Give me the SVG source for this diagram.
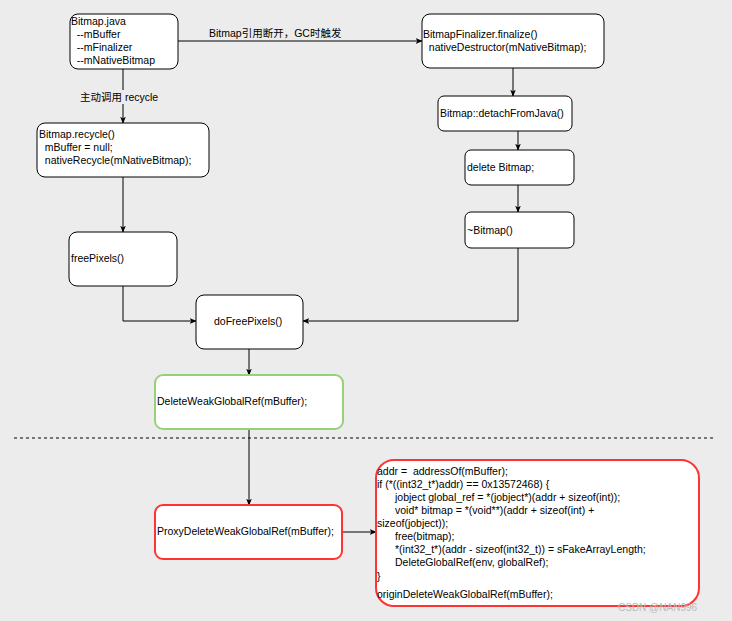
<svg xmlns="http://www.w3.org/2000/svg" width="732" height="621" viewBox="0 0 732 621">
<defs>
<marker id="ah" viewBox="0 0 10 10" refX="9" refY="5" markerWidth="7" markerHeight="7" orient="auto"><path d="M0,1 L10,5 L0,9 L2.5,5 Z" fill="#000"/></marker>
<style>
text{font-family:"Liberation Sans",Arial,"Noto Sans CJK SC",sans-serif;font-size:10.5px;fill:#000;white-space:pre}
.n{fill:#fff;stroke:#000;stroke-width:1}
.g{fill:#fff;stroke:#97d077;stroke-width:2}
.r{fill:#fff;stroke:#ff3333;stroke-width:2}
.c{fill:none;stroke:#000;stroke-width:1;marker-end:url(#ah)}
</style>
</defs>
<rect width="732" height="621" fill="#ececec"/>
<g id="connectors">
<path class="c" d="M123,69 V123"/>
<rect x="79" y="90" width="82" height="14" fill="#ececec"/>
<text x="80" y="101">主动调用 recycle</text>
<path class="c" d="M178,41 H422"/>
<text x="209" y="37">Bitmap引用断开，GC时触发</text>
<path class="c" d="M513,68 V96"/>
<path class="c" d="M518,131 V150"/>
<path class="c" d="M518,185 V212"/>
<path class="c" d="M123,177 V232"/>
<path class="c" d="M123,286 V321 H196"/>
<path class="c" d="M518,248 V321 H303"/>
<path class="c" d="M249,349 V375"/>
<path class="c" d="M249,429 V505"/>
<path class="c" d="M342,532 H376"/>
<line x1="14" y1="438" x2="714" y2="438" stroke="#000" stroke-dasharray="3,3"/>
</g>
<g id="bitmapjava"><rect class="n" x="70" y="14" width="108" height="55" rx="8"/>
<text x="71" y="25">Bitmap.java</text><text x="71" y="38" xml:space="preserve">  --mBuffer</text><text x="71" y="51" xml:space="preserve">  --mFinalizer</text><text x="71" y="64" xml:space="preserve">  --mNativeBitmap</text></g>
<g id="finalizer"><rect class="n" x="422" y="14" width="182" height="54" rx="8"/>
<text x="423" y="38">BitmapFinalizer.finalize()</text><text x="423" y="51" xml:space="preserve">  nativeDestructor(mNativeBitmap);</text></g>
<g id="recycle"><rect class="n" x="37" y="123" width="172" height="54" rx="8"/>
<text x="39" y="138">Bitmap.recycle()</text><text x="39" y="151" xml:space="preserve">  mBuffer = null;</text><text x="39" y="164" xml:space="preserve">  nativeRecycle(mNativeBitmap);</text></g>
<g id="detach"><rect class="n" x="438" y="96" width="134" height="35" rx="6"/><text x="440" y="117">Bitmap::detachFromJava()</text></g>
<g id="delete"><rect class="n" x="465" y="150" width="109" height="35" rx="6"/><text x="467" y="171">delete Bitmap;</text></g>
<g id="dtor"><rect class="n" x="465" y="212" width="109" height="36" rx="6"/><text x="467" y="234">~Bitmap()</text></g>
<g id="freepixels"><rect class="n" x="69" y="232" width="108" height="54" rx="8"/><text x="71" y="262">freePixels()</text></g>
<g id="dofreepixels"><rect class="n" x="196" y="295" width="107" height="54" rx="8"/><text x="214" y="325">doFreePixels()</text></g>
<g id="deleteweak"><rect class="g" x="155" y="375" width="188" height="54" rx="8"/><text x="157" y="405">DeleteWeakGlobalRef(mBuffer);</text></g>
<g id="proxy"><rect class="r" x="155" y="505" width="187" height="54" rx="8"/><text x="157" y="535">ProxyDeleteWeakGlobalRef(mBuffer);</text></g>
<g id="code"><rect class="r" x="376" y="460" width="323" height="146" rx="18"/>
<text x="377" y="475" xml:space="preserve">addr =  addressOf(mBuffer);</text>
<text x="377" y="488">if (*((int32_t*)addr) == 0x13572468) {</text>
<text x="395" y="501">jobject global_ref = *(jobject*)(addr + sizeof(int));</text>
<text x="395" y="514">void* bitmap = *(void**)(addr + sizeof(int) +</text>
<text x="377" y="527">sizeof(jobject));</text>
<text x="395" y="540">free(bitmap);</text>
<text x="395" y="553">*(int32_t*)(addr - sizeof(int32_t)) = sFakeArrayLength;</text>
<text x="395" y="566">DeleteGlobalRef(env, globalRef);</text>
<text x="377" y="580">}</text>
<text x="377" y="598">originDeleteWeakGlobalRef(mBuffer);</text></g>
<text x="618" y="611" style="fill:#bbbbbb;font-size:10px">CSDN @NAN996</text>
</svg>
